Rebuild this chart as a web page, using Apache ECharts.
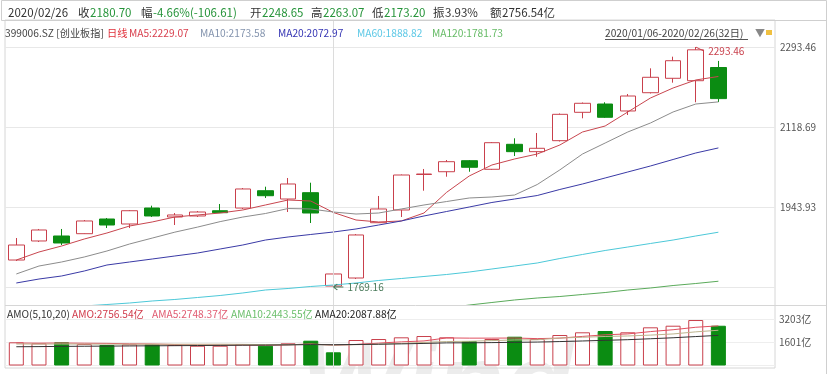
<!DOCTYPE html>
<html>
<head>
<meta charset="utf-8">
<script src="https://cdn.jsdelivr.net/npm/echarts@6/dist/echarts.min.js"></script>
<style>
html, body { margin: 0; padding: 0; background: #fff; }
#main { width: 830px; height: 374px; }
</style>
</head>
<body>
<div id="main"></div>
<script>
// 创业板指 399006.SZ 日线 2020/01/06 - 2020/02/26
var dates = ['2020/01/06','2020/01/07','2020/01/08','2020/01/09','2020/01/10','2020/01/13','2020/01/14','2020/01/15','2020/01/16','2020/01/17','2020/01/20','2020/01/21','2020/01/22','2020/01/23','2020/02/03','2020/02/04','2020/02/05','2020/02/06','2020/02/07','2020/02/10','2020/02/11','2020/02/12','2020/02/13','2020/02/14','2020/02/17','2020/02/18','2020/02/19','2020/02/20','2020/02/21','2020/02/24','2020/02/25','2020/02/26'];
var opens  = [1828.1,1869.7,1880.6,1885.6,1917.7,1906.8,1941.7,1922.1,1924.3,1935.8,1941.7,1979.5,1961.4,1975.2,1771.3,1788.8,1909.6,1937.4,2014.9,2021.0,2045.1,2026.3,2080.9,2064.8,2088.8,2150.8,2168.9,2153.7,2193.6,2225.1,2219.8,2248.65];
var closes = [1860.9,1893.7,1865.3,1913.4,1904.6,1935.8,1924.3,1926.5,1933.0,1931.5,1983.3,1968.6,1994.2,1930.8,1797.6,1882.8,1939.6,2013.8,2016.0,2042.9,2030.7,2084.4,2064.8,2072.2,2146.4,2170.5,2139.9,2186.4,2227.3,2263.5,2287.31,2180.70];
var lows   = [1826.0,1867.5,1860.9,1884.9,1898.0,1898.0,1922.1,1904.6,1922.1,1930.8,1939.5,1963.6,1933.0,1909.0,1769.16,1786.6,1909.0,1922.1,1979.5,2010.1,2021.0,2024.8,2055.3,2053.8,2087.0,2137.7,2138.4,2144.9,2191.9,2215.5,2172.7,2173.20];
var highs  = [1876.2,1895.9,1895.9,1915.5,1919.9,1937.4,1946.8,1930.8,1935.2,1950.5,1985.4,1988.3,2007.3,1997.0,1833.2,1884.9,1968.0,2014.9,2027.0,2046.6,2046.6,2085.9,2094.0,2105.6,2148.2,2172.2,2172.7,2190.8,2246.9,2272.3,2293.46,2263.07];

var ma5   = [1828.1,1845.6,1858.7,1874.0,1887.1,1902.4,1911.2,1922.1,1926.5,1930.8,1937.4,1948.3,1959.2,1957.0,1932.0,1915.5,1911.2,1913.4,1930.8,1976.0,2011.7,2035.7,2048.8,2059.7,2079.4,2107.8,2120.9,2151.5,2182.0,2203.9,2221.4,2229.07];
var ma10  = [1797.6,1815.0,1823.8,1834.7,1847.8,1863.1,1876.0,1889.0,1900.0,1912.0,1922.0,1929.7,1940.6,1939.6,1933.0,1928.6,1930.8,1939.6,1948.3,1955.9,1963.6,1965.8,1970.1,1993.0,2025.0,2059.7,2083.7,2107.8,2127.4,2151.5,2168.9,2173.58];
var ma20  = [1777.9,1786.6,1793.2,1804.1,1817.2,1823.8,1830.3,1836.9,1843.4,1852.2,1860.9,1871.8,1878.4,1883.9,1889.3,1895.9,1904.6,1913.4,1924.3,1934.1,1943.9,1953.8,1961.4,1969.0,1982.2,1994.2,2007.3,2020.4,2033.5,2047.7,2061.9,2072.97];
var ma60  = [1716.7,1720.0,1724.4,1727.7,1730.9,1734.2,1738.6,1741.9,1746.2,1750.6,1756.1,1762.6,1765.9,1770.3,1773.5,1777.9,1783.4,1787.7,1792.1,1796.5,1801.9,1808.5,1815.0,1821.6,1831.4,1840.2,1848.9,1856.5,1864.2,1871.8,1880.6,1888.82];
var ma120 = [null,null,null,null,null,null,null,null,null,null,null,null,null,null,null,null,null,null,1716.0,1723.0,1729.8,1735.3,1740.8,1745.1,1748.4,1752.8,1757.1,1762.6,1767.0,1772.4,1776.8,1781.73];

// 成交额(亿)
var amo   = [1608,1538,1608,1490,1421,1469,1469,1421,1372,1372,1490,1372,1538,1719,915,1767,1836,1954,2044,1954,1698,1836,1996,1836,2114,2301,2391,2301,2647,2758,3153,2756.54];
var amoUp = [1,1,0,1,0,1,0,1,1,1,1,0,1,0,0,1,1,1,1,1,0,1,0,1,1,1,0,1,1,1,1,0];
var ama5  = [1560,1550,1560,1545,1533,1505,1491,1454,1430,1421,1425,1405,1429,1498,1407,1462,1555,1638,1703,1911,1897,1897,1906,1864,1896,2017,2128,2189,2351,2480,2650,2748.37];
var ama10 = [1490,1485,1490,1485,1480,1480,1478,1475,1476,1477,1465,1448,1441,1464,1414,1444,1480,1534,1601,1659,1680,1726,1772,1784,1904,1957,2012,2047,2107,2188,2333,2443.55];
var ama20 = [1300,1310,1325,1335,1345,1355,1365,1375,1385,1395,1405,1415,1430,1450,1440,1455,1475,1500,1530,1568,1572,1587,1607,1624,1659,1700,1746,1790,1854,1923,2007,2087.88];

var priceMin = 1769.16, priceMax = 2293.46;
var amoMax = 3203;

var RED = '#c9404c';
var GREEN = '#0b8c12';
var FONT = '"Noto Sans CJK SC", "Noto Sans", sans-serif';

// 两个空位，右侧留白
var cats = dates.concat(['', ' ']);

var kData = opens.map(function (o, i) {
  return [o, closes[i], lows[i], highs[i]];
});
var amoData = amo.map(function (v, i) {
  return {
    value: v,
    itemStyle: amoUp[i]
      ? { color: '#fff', borderColor: RED, borderWidth: 1 }
      : { color: GREEN, borderColor: GREEN, borderWidth: 1 }
  };
});

// 像素/点 (主图)
var k = (priceMax - priceMin) / 240;

function txt(x, y, s, color, size) {
  return {
    type: 'text', x: x, y: y, silent: true, z: 100,
    style: { text: s, fill: color, font: size + 'px ' + FONT, verticalAlign: 'middle', align: 'left' }
  };
}
function line(x1, y1, x2, y2, color) {
  return {
    type: 'line', silent: true, z: 100,
    shape: { x1: x1, y1: y1, x2: x2, y2: y2 },
    style: { stroke: color, lineWidth: 1 }
  };
}
function maLine(name, data, color) {
  return {
    name: name, type: 'line', data: data, xAxisIndex: 0, yAxisIndex: 0,
    showSymbol: false, symbol: 'none', silent: true,
    lineStyle: { color: color, width: 1 }
  };
}
function amaLine(name, data, color) {
  return {
    name: name, type: 'line', data: data, xAxisIndex: 2, yAxisIndex: 2,
    showSymbol: false, symbol: 'none', silent: true,
    lineStyle: { color: color, width: 1 }
  };
}

var myChart = echarts.init(document.getElementById('main'));

myChart.setOption({
  animation: false,
  backgroundColor: '#fff',
  textStyle: { fontFamily: FONT },
  grid: [
    { left: 5, right: 55, top: 21, bottom: 69 },
    { left: 5, right: 55, top: 47, bottom: 87 },
    { left: 5, right: 55, top: 319.3, bottom: 8.5 },
    { left: 5, right: 55, top: 20, bottom: 6, show: true, borderColor: '#d6d6d6', borderWidth: 1, backgroundColor: 'transparent' }
  ],
  xAxis: [0, 1, 2, 3].map(function (g) {
    return { type: 'category', gridIndex: g, data: cats, boundaryGap: true, show: false };
  }),
  yAxis: [
    { type: 'value', gridIndex: 0, min: priceMin - 18 * k, max: priceMax + 26 * k, show: false },
    {
      type: 'value', gridIndex: 1, min: priceMin, max: priceMax, interval: (priceMax - priceMin) / 3,
      position: 'right',
      axisLine: { show: false }, axisTick: { show: false },
      axisLabel: {
        color: '#555', fontSize: 10, margin: 5, fontFamily: FONT,
        formatter: function (v, i) { return i === 0 ? '' : v.toFixed(2); }
      },
      splitLine: { show: true, lineStyle: { color: '#e8e8e8', width: 1 } }
    },
    {
      type: 'value', gridIndex: 2, min: 0, max: amoMax, interval: amoMax / 2,
      position: 'right',
      axisLine: { show: false }, axisTick: { show: false },
      axisLabel: {
        color: '#555', fontSize: 10, margin: 4, fontFamily: FONT,
        formatter: function (v) { return v === 0 ? '' : Math.floor(v) + '亿'; }
      },
      splitLine: { show: true, lineStyle: { color: '#eeeeee', width: 1 } }
    },
    { type: 'value', gridIndex: 3, min: 0, max: 1, show: false }
  ],
  graphic: [
    // 水印
    {
      type: 'text', x: 300, y: 334, silent: true, z: -10,
      style: { text: 'Wind', fill: 'rgba(140,140,140,0.17)', font: 'italic bold 112px "Liberation Sans", sans-serif', verticalAlign: 'top' }
    },
    // 外框
    { type: 'rect', silent: true, z: 100, shape: { x: 1.5, y: 0.5, width: 825, height: 20 }, style: { fill: 'none', stroke: '#cfcfcf', lineWidth: 1 } },
    line(826.5, 20, 826.5, 374, '#cfcfcf'),
    line(5, 305.5, 826, 305.5, '#d6d6d6'),
    // 第一行
    txt(8, 13, '2020/02/26', '#333', 11.5),
    txt(78, 13, '收', '#333', 11.5), txt(90, 13, '2180.70', '#26943a', 11.5),
    txt(141, 13, '幅', '#333', 11.5), txt(153, 13, '-4.66%(-106.61)', '#26943a', 11.5),
    txt(250, 13, '开', '#333', 11.5), txt(262, 13, '2248.65', '#26943a', 11.5),
    txt(311, 13, '高', '#333', 11.5), txt(323, 13, '2263.07', '#26943a', 11.5),
    txt(372, 13, '低', '#333', 11.5), txt(384, 13, '2173.20', '#26943a', 11.5),
    txt(433, 13, '振', '#333', 11.5), txt(445, 13, '3.93%', '#333', 11.5),
    txt(490, 13, '额', '#333', 11.5), txt(502, 13, '2756.54亿', '#333', 11.5),
    // 第二行
    txt(5, 33, '399006.SZ [创业板指]', '#444', 10.2),
    txt(107, 33, '日线', '#e0303a', 10.2),
    txt(129, 33, 'MA5:2229.07', '#d8404e', 10.2),
    txt(200, 33, 'MA10:2173.58', '#8494ae', 10.2),
    txt(278, 33, 'MA20:2072.97', '#3535b4', 10.2),
    txt(357, 33, 'MA60:1888.82', '#5cc8e6', 10.2),
    txt(432, 33, 'MA120:1781.73', '#66bb66', 10.2),
    txt(605, 33, '2020/01/06-2020/02/26(32日)', '#444', 10.2),
    line(605, 39.5, 748, 39.5, '#555'),
    txt(755, 33, '▼', '#888', 10),
    { type: 'rect', silent: true, z: 100, shape: { x: 766, y: 30, width: 6, height: 5 }, style: { fill: '#f0c040' } },
    // 成交额
    txt(7, 314, 'AMO(5,10,20)', '#333', 10.2),
    txt(72, 314, 'AMO:2756.54亿', '#d03a4a', 10.2),
    txt(152, 314, 'AMA5:2748.37亿', '#e05a70', 10.2),
    txt(231, 314, 'AMA10:2443.55亿', '#6cbf6c', 10.2),
    txt(315, 314, 'AMA20:2087.88亿', '#222', 10.2)
  ],
  series: [
    {
      name: '日线', type: 'candlestick', data: kData, xAxisIndex: 0, yAxisIndex: 0,
      barWidth: 16, silent: true,
      itemStyle: { color: '#fff', color0: GREEN, borderColor: RED, borderColor0: GREEN, borderWidth: 1 },
      markPoint: {
        silent: true,
        data: [
          {
            type: 'max', valueDim: 'highest',
            symbol: 'path://M0 0 L8 4', symbolSize: [8, 4], symbolOffset: [4, 2],
            itemStyle: { color: 'none', borderColor: RED, borderWidth: 1 },
            label: { show: true, position: 'right', distance: 1, offset: [0, 2], color: RED, fontSize: 10, fontFamily: FONT,
              formatter: function (p) { return Number(p.value).toFixed(2); } }
          },
          {
            type: 'min', valueDim: 'lowest',
            symbol: 'path://M0 3 L10 3 M0 3 L4 0.5 M0 3 L4 5.5', symbolSize: [10, 6], symbolOffset: [5, 0],
            itemStyle: { color: 'none', borderColor: '#4a7a5a', borderWidth: 1 },
            label: { show: true, position: 'right', distance: 1, color: '#4a7a5a', fontSize: 10, fontFamily: FONT,
              formatter: function (p) { return Number(p.value).toFixed(2); } }
          }
        ]
      }
    },
    maLine('MA5', ma5, '#c8464f'),
    maLine('MA10', ma10, '#8c8c8c'),
    maLine('MA20', ma20, '#3a3aa6'),
    maLine('MA60', ma60, '#4cc8d8'),
    maLine('MA120', ma120, '#5aaa5a'),
    {
      name: 'AMO', type: 'bar', data: amoData, xAxisIndex: 2, yAxisIndex: 2,
      barWidth: 15, silent: true
    },
    amaLine('AMA5', ama5, '#e05060'),
    amaLine('AMA10', ama10, '#bdb48e'),
    amaLine('AMA20', ama20, '#333'),
    {
      name: 'sep', type: 'line', data: [], xAxisIndex: 3, yAxisIndex: 3, silent: true,
      markLine: {
        silent: true, symbol: 'none', label: { show: false },
        lineStyle: { color: '#dcdcdc', type: 'solid', width: 1 },
        data: [{ xAxis: '2020/02/03' }]
      }
    }
  ]
});
</script>
</body>
</html>
